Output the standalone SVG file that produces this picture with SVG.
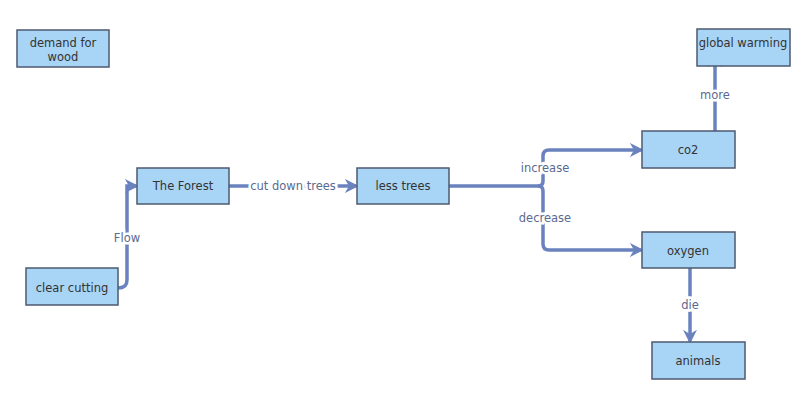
<svg xmlns="http://www.w3.org/2000/svg" width="800" height="402" viewBox="0 0 800 402">
<style>
.n rect{fill:#a8d4f6;stroke:#4e5a70;stroke-width:1.5}
text{font-family:"DejaVu Sans",sans-serif;font-size:11.5px;fill:#333;text-anchor:middle;dominant-baseline:middle}
.c path{fill:none;stroke:#6a83bf;stroke-width:3.5}
.l{fill:#5a6a90;paint-order:stroke;stroke:#fff;stroke-width:5}
</style>
<defs><marker id="a" viewBox="0 0 10 10" refX="8" refY="5" markerWidth="4" markerHeight="4" orient="auto" markerUnits="strokeWidth"><path d="M0,0 L10,5 L0,10 L3,5Z" fill="#6a83bf"/></marker></defs>
<rect width="800" height="402" fill="#fff"/>
<g class="c">
<path d="M118,288 Q127,288 127,280 V186 H136" marker-end="url(#a)"/>
<path d="M229,186 H356" marker-end="url(#a)"/>
<path d="M449,186 H538 Q543,186 543,181 V156 Q543,150 549,150 H641" marker-end="url(#a)"/>
<path d="M538,186 Q543,186 543,191 V244 Q543,250 549,250 H641" marker-end="url(#a)"/>
<path d="M715,131 V56" marker-end="url(#a)"/>
<path d="M690,268 V341" marker-end="url(#a)"/>
<text class="l" x="127" y="238">Flow</text>
<text class="l" x="293" y="186">cut down trees</text>
<text class="l" x="545" y="168">increase</text>
<text class="l" x="545" y="218">decrease</text>
<text class="l" x="715" y="95">more</text>
<text class="l" x="690" y="305">die</text>
</g>
<g class="n" id="demand"><rect x="17" y="30" width="92" height="37"/><text x="63" y="43">demand for</text><text x="63" y="57">wood</text></g>
<g class="n" id="forest"><rect x="137" y="168" width="92" height="36"/><text x="183" y="186">The Forest</text></g>
<g class="n" id="clear"><rect x="26" y="268" width="92" height="37"/><text x="72" y="288">clear cutting</text></g>
<g class="n" id="less"><rect x="357" y="168" width="92" height="36"/><text x="403" y="186">less trees</text></g>
<g class="n" id="co2"><rect x="642" y="131" width="93" height="37"/><text x="688" y="150">co2</text></g>
<g class="n" id="oxygen"><rect x="642" y="232" width="93" height="36"/><text x="688" y="251">oxygen</text></g>
<g class="n" id="gw"><rect x="697" y="29" width="93" height="37"/><text x="743" y="43">global warming</text></g>
<g class="n" id="animals"><rect x="652" y="342" width="93" height="37"/><text x="698" y="361">animals</text></g>
</svg>
